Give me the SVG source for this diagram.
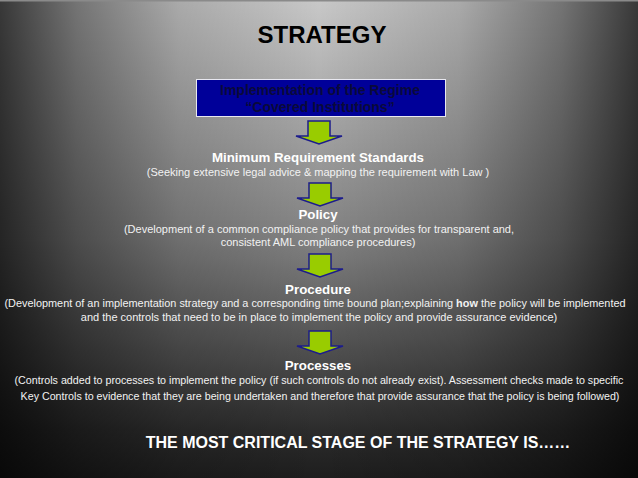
<svg xmlns="http://www.w3.org/2000/svg" width="638" height="478" viewBox="0 0 638 478">
<style>
.h{font-family:"Liberation Sans",Arial,sans-serif;font-weight:bold;fill:#ffffff;text-anchor:middle}
.d{font-family:"Liberation Sans",Arial,sans-serif;fill:#f2f2f2;text-anchor:middle;font-size:11px}
.arr{fill:#99cc00;stroke:#1c1c8c;stroke-width:1.5;stroke-linejoin:miter}
</style>
<defs>
<linearGradient id="bgv" x1="0" y1="0" x2="0" y2="1">
<stop offset="0" stop-color="#c8c8c8"/>
<stop offset="0.5" stop-color="#828282"/>
<stop offset="0.9" stop-color="#2c2c2c"/>
<stop offset="1" stop-color="#1e1e1e"/>
</linearGradient>
<linearGradient id="bgh" x1="0" y1="0" x2="1" y2="0">
<stop offset="0" stop-color="#000" stop-opacity="0.72"/>
<stop offset="0.12" stop-color="#000" stop-opacity="0.42"/>
<stop offset="0.28" stop-color="#000" stop-opacity="0.15"/>
<stop offset="0.5" stop-color="#000" stop-opacity="0"/>
<stop offset="0.72" stop-color="#000" stop-opacity="0.15"/>
<stop offset="0.88" stop-color="#000" stop-opacity="0.42"/>
<stop offset="1" stop-color="#000" stop-opacity="0.72"/>
</linearGradient>
<path id="arrow" class="arr" d="M-11,0 H11 V15 H23 L0,23 L-23,15 H-11 Z"/>
</defs>
<rect width="638" height="478" fill="url(#bgv)"/>
<rect width="638" height="478" fill="url(#bgh)"/>
<rect x="0" y="0" width="638" height="1.5" fill="#8a8a8a"/>

<g id="title">
<text x="322" y="43" class="h" style="fill:#000;font-size:24px">STRATEGY</text>
</g>

<g id="regime">
<rect x="196.5" y="79.5" width="249" height="37" fill="#000099" stroke="#e8e8f0" stroke-width="1"/>
<text x="320" y="95" class="h" style="fill:#0a0a3a;font-size:14px">Implementation of the Regime</text>
<text x="320" y="112" class="h" style="fill:#0a0a3a;font-size:14px">“Covered Institutions”</text>
</g>

<g id="connectors">
<use href="#arrow" x="319" y="121"/>
<use href="#arrow" x="320" y="183"/>
<use href="#arrow" x="320" y="254"/>
<use href="#arrow" x="320" y="331"/>
</g>

<g id="minimum">
<text x="318" y="162" class="h" style="font-size:13.3px">Minimum Requirement Standards</text>
<text x="318" y="176" class="d">(Seeking extensive legal advice &amp; mapping the requirement with Law )</text>
</g>

<g id="policy">
<text x="318" y="219" class="h" style="font-size:13.3px">Policy</text>
<text x="319" y="233" class="d">(Development of a common compliance policy that provides for transparent and,</text>
<text x="318" y="246" class="d">consistent AML compliance procedures)</text>
</g>

<g id="procedure">
<text x="318" y="294" class="h" style="font-size:13.3px">Procedure</text>
<text x="315" y="307" class="d" style="font-size:10.9px">(Development of an implementation strategy and a corresponding time bound plan;explaining <tspan font-weight="bold">how</tspan> the policy will be implemented</text>
<text x="319" y="321" class="d">and the controls that need to be in place to implement the policy and provide assurance evidence)</text>
</g>

<g id="processes">
<text x="318" y="370" class="h" style="font-size:13.3px">Processes</text>
<text x="319" y="384" class="d" style="font-size:10.7px">(Controls added to processes to implement the policy (if such controls do not already exist). Assessment checks made to specific</text>
<text x="320" y="400" class="d" style="font-size:10.7px">Key Controls to evidence that they are being undertaken and therefore that provide assurance that the policy is being followed)</text>
</g>

<g id="critical">
<text x="358" y="448" class="h" style="font-size:16px">THE MOST CRITICAL STAGE OF THE STRATEGY IS……</text>
</g>
</svg>
